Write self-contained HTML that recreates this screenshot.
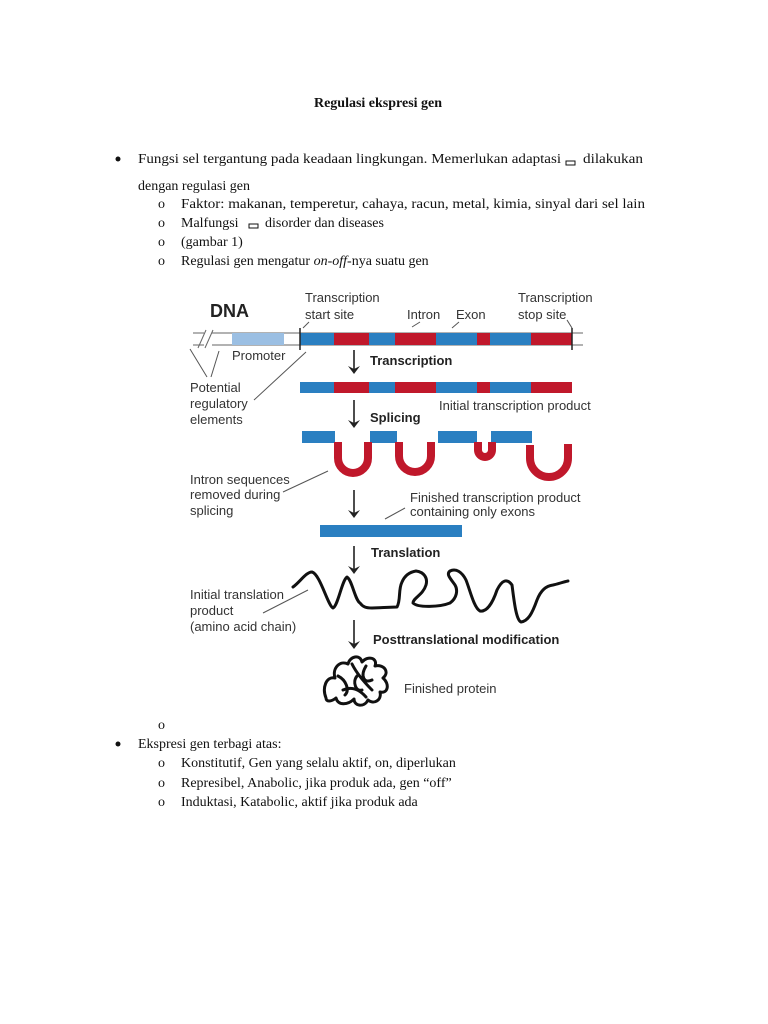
<!DOCTYPE html>
<html><head><meta charset="utf-8"><style>
html,body{margin:0;padding:0;background:#fff}
svg{display:block}
.s{font-family:"Liberation Serif",serif;font-size:14px;fill:#111}
.a{font-family:"Liberation Sans",sans-serif;font-size:13px;fill:#333}
.b{font-family:"Liberation Sans",sans-serif;font-size:13px;font-weight:bold;fill:#222}
</style></head><body>
<svg width="768" height="1024" viewBox="0 0 768 1024" xmlns="http://www.w3.org/2000/svg">
<text class="s" x="378" y="107" text-anchor="middle" font-weight="bold">Regulasi ekspresi gen</text>
<circle cx="118" cy="159" r="2.5" fill="#111"/>
<text class="s" x="138" y="163" textLength="423" lengthAdjust="spacingAndGlyphs">Fungsi sel tergantung pada keadaan lingkungan. Memerlukan adaptasi</text>
<rect x="566" y="161" width="9" height="4" fill="none" stroke="#111" stroke-width="1"/>
<text class="s" x="583" y="163" textLength="60" lengthAdjust="spacingAndGlyphs">dilakukan</text>
<text class="s" x="138" y="190">dengan regulasi gen</text>
<g class="s">
<text x="158" y="208">o</text><text x="181" y="208" textLength="464" lengthAdjust="spacingAndGlyphs">Faktor: makanan, temperetur, cahaya, racun, metal, kimia, sinyal dari sel lain</text>
<text x="158" y="227">o</text><text x="181" y="227">Malfungsi</text><rect x="249" y="224" width="9" height="4" fill="none" stroke="#111"/><text x="265" y="227">disorder dan diseases</text>
<text x="158" y="246">o</text><text x="181" y="246">(gambar 1)</text>
<text x="158" y="265">o</text><text x="181" y="265">Regulasi gen mengatur <tspan font-style="italic">on-off</tspan>-nya suatu gen</text>
<text x="158" y="729">o</text>
</g>
<circle cx="118" cy="744" r="2.5" fill="#111"/>
<g class="s">
<text x="138" y="748">Ekspresi gen terbagi atas:</text>
<text x="158" y="767">o</text><text x="181" y="767">Konstitutif, Gen yang selalu aktif, on, diperlukan</text>
<text x="158" y="787">o</text><text x="181" y="787">Represibel, Anabolic, jika produk ada, gen “off”</text>
<text x="158" y="806">o</text><text x="181" y="806">Induktasi, Katabolic, aktif jika produk ada</text>
</g>
<!-- diagram -->
<text x="210" y="317" font-family="Liberation Sans,sans-serif" font-weight="bold" font-size="18" fill="#222">DNA</text>
<text class="a" x="305" y="302">Transcription</text><text class="a" x="305" y="319">start site</text>
<text class="a" x="407" y="319">Intron</text><text class="a" x="456" y="319">Exon</text>
<text class="a" x="518" y="302">Transcription</text><text class="a" x="518" y="319">stop site</text>
<line x1="193" y1="333" x2="583" y2="333" stroke="#666"/>
<line x1="193" y1="345" x2="583" y2="345" stroke="#666"/>
<rect x="204" y="331" width="8" height="16" fill="#fff"/>
<line x1="198" y1="348" x2="206" y2="330" stroke="#666"/><line x1="205" y1="348" x2="213" y2="330" stroke="#666"/>
<rect x="232" y="333" width="52" height="12" fill="#9bbfe3"/>
<g>
<rect x="300" y="333" width="34" height="12" fill="#2a7fc1"/><rect x="334" y="333" width="35" height="12" fill="#c0182b"/>
<rect x="369" y="333" width="26" height="12" fill="#2a7fc1"/><rect x="395" y="333" width="41" height="12" fill="#c0182b"/>
<rect x="436" y="333" width="41" height="12" fill="#2a7fc1"/><rect x="477" y="333" width="13" height="12" fill="#c0182b"/>
<rect x="490" y="333" width="41" height="12" fill="#2a7fc1"/><rect x="531" y="333" width="41" height="12" fill="#c0182b"/>
</g>
<line x1="300" y1="328" x2="300" y2="350" stroke="#222" stroke-width="1.5"/>
<line x1="572" y1="328" x2="572" y2="350" stroke="#222" stroke-width="1.5"/>
<line x1="303" y1="328" x2="309" y2="322" stroke="#555"/><line x1="412" y1="327" x2="420" y2="322" stroke="#555"/>
<line x1="452" y1="328" x2="459" y2="322" stroke="#555"/><line x1="572" y1="328" x2="567" y2="320" stroke="#555"/>
<text class="a" x="232" y="360">Promoter</text>
<line x1="190" y1="349" x2="207" y2="377" stroke="#555"/><line x1="219" y1="351" x2="211" y2="377" stroke="#555"/>
<line x1="254" y1="400" x2="306" y2="352" stroke="#555"/>
<text class="a" x="190" y="392">Potential</text><text class="a" x="190" y="408">regulatory</text><text class="a" x="190" y="424">elements</text>
<g>
<rect x="300" y="382" width="34" height="11" fill="#2a7fc1"/><rect x="334" y="382" width="35" height="11" fill="#c0182b"/>
<rect x="369" y="382" width="26" height="11" fill="#2a7fc1"/><rect x="395" y="382" width="41" height="11" fill="#c0182b"/>
<rect x="436" y="382" width="41" height="11" fill="#2a7fc1"/><rect x="477" y="382" width="13" height="11" fill="#c0182b"/>
<rect x="490" y="382" width="41" height="11" fill="#2a7fc1"/><rect x="531" y="382" width="41" height="11" fill="#c0182b"/>
</g>
<text class="b" x="370" y="365">Transcription</text>
<text class="a" x="439" y="410">Initial transcription product</text>
<text class="b" x="370" y="422">Splicing</text>
<g fill="none" stroke="#222" stroke-width="1.6">
<line x1="354" y1="350" x2="354" y2="370"/><line x1="354" y1="400" x2="354" y2="424"/>
<line x1="354" y1="490" x2="354" y2="514"/><line x1="354" y1="546" x2="354" y2="570"/>
<line x1="354" y1="620" x2="354" y2="645"/>
</g>
<g fill="#222">
<path d="M348,366 L354,374 L360,366 L354,369Z"/><path d="M348,420 L354,428 L360,420 L354,423Z"/>
<path d="M348,510 L354,518 L360,510 L354,513Z"/><path d="M348,566 L354,574 L360,566 L354,569Z"/>
<path d="M348,641 L354,649 L360,641 L354,644Z"/>
</g>
<rect x="302" y="431" width="33" height="12" fill="#2a7fc1"/><rect x="370" y="431" width="27" height="12" fill="#2a7fc1"/>
<rect x="438" y="431" width="39" height="12" fill="#2a7fc1"/><rect x="491" y="431" width="41" height="12" fill="#2a7fc1"/>
<g fill="none" stroke="#c0182b" stroke-width="8" stroke-linecap="butt">
<path d="M338,442 L338,458 A15,15 0 0 0 368,458 L368,442"/>
<path d="M399,442 L399,456 A16,16 0 0 0 431,456 L431,442"/>
<path d="M478,442 L478,450 A7,7 0 0 0 492,450 L492,442"/>
<path d="M530,445 L530,458 A19,19 0 0 0 568,458 L568,444"/>
</g>
<text class="a" x="190" y="484">Intron sequences</text><text class="a" x="190" y="499">removed during</text><text class="a" x="190" y="515">splicing</text>
<line x1="283" y1="492" x2="328" y2="471" stroke="#555"/>
<text class="a" x="410" y="502">Finished transcription product</text><text class="a" x="410" y="516">containing only exons</text>
<line x1="385" y1="519" x2="405" y2="508" stroke="#555"/>
<rect x="320" y="525" width="142" height="12" fill="#2a7fc1"/>
<text class="b" x="371" y="557">Translation</text>
<path d="M293,587 C300,582 306,572 312,572 C320,574 328,606 333,608 C338,606 342,580 347,577 C352,580 355,600 360,603 C363,607 366,608 372,608 L397,607 C401,600 398,590 402,582 C405,575 410,572 416,571 C424,572 428,578 426,585 C423,595 413,598 413,603 C418,608 440,607 450,603 C457,598 458,590 455,585 C450,578 446,574 450,571 C456,568 462,572 466,580 C470,590 474,608 480,611 C486,612 492,605 497,590 C502,580 507,578 512,585 C514,600 516,620 521,622 C528,621 532,614 537,600 C541,590 546,586 553,585 C558,584 563,582 568,581" fill="none" stroke="#111" stroke-width="3" stroke-linejoin="round" stroke-linecap="round"/>
<text class="a" x="190" y="599">Initial translation</text><text class="a" x="190" y="615">product</text><text class="a" x="190" y="631">(amino acid chain)</text>
<line x1="263" y1="613" x2="308" y2="590" stroke="#555"/>
<text class="b" x="373" y="644">Posttranslational modification</text>
<g fill="none" stroke="#111" stroke-width="3" stroke-linejoin="round" stroke-linecap="round">
<path d="M326,698 C322,688 326,676 335,678 C332,668 340,660 348,664 C350,656 360,654 362,662 C368,655 378,658 375,666 C384,664 390,672 383,678 C390,684 388,694 380,692 C382,700 374,705 368,700 C364,708 354,706 354,699 C348,705 338,706 336,698 C331,702 326,702 326,698 Z"/>
<path d="M338,676 C346,680 350,690 345,695 M352,664 C356,672 362,680 372,690 M366,666 C360,676 364,684 372,680 M343,690 C352,686 360,690 366,697 M357,676 C352,682 356,692 362,690"/>
</g>
<text class="a" x="404" y="693">Finished protein</text>
</svg>
</body></html>
